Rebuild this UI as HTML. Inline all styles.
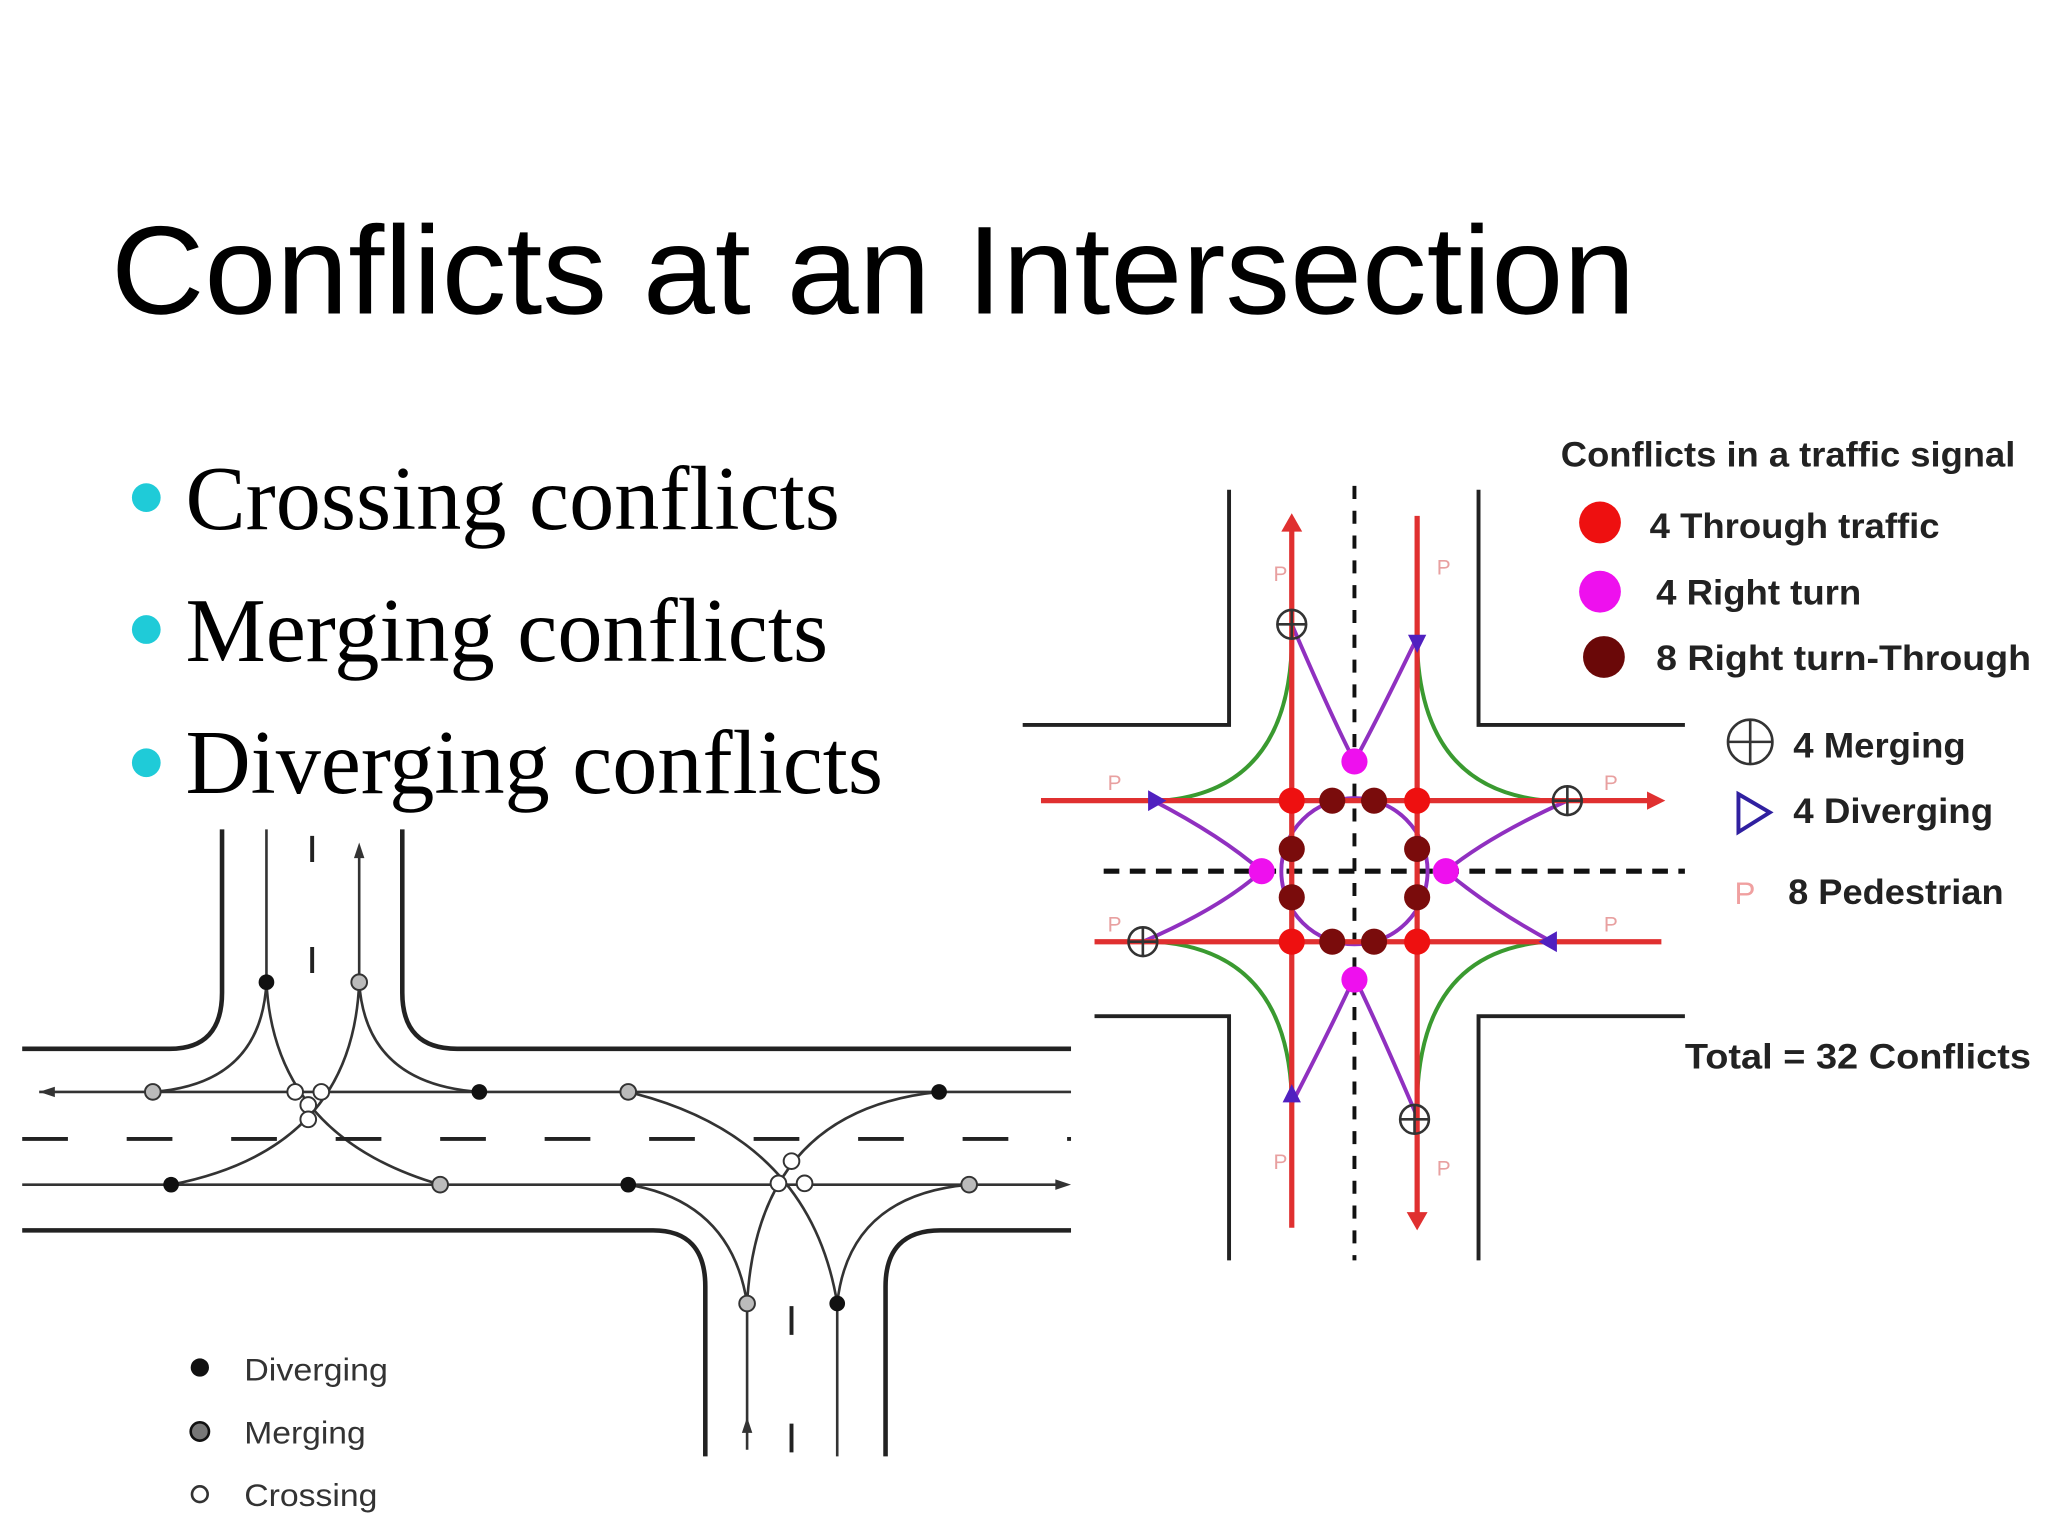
<!DOCTYPE html>
<html><head><meta charset="utf-8"><style>
html,body{margin:0;padding:0;background:#fff;}
svg{display:block;}
</style></head><body>
<svg width="2048" height="1536" viewBox="0 0 1568 1176" xmlns="http://www.w3.org/2000/svg">
<rect width="1568" height="1176" fill="#fff"/>
<text x="85" y="240" font-family="Liberation Sans, sans-serif" font-size="96" textLength="1167" lengthAdjust="spacingAndGlyphs" fill="#000">Conflicts at an Intersection</text>
<g fill="#1fcbd8"><circle cx="112" cy="381" r="11"/><circle cx="112" cy="482" r="11"/><circle cx="112" cy="584" r="11"/></g>
<g font-family="Liberation Serif, serif" font-size="70" fill="#000">
<text x="142" y="405" textLength="501" lengthAdjust="spacingAndGlyphs">Crossing conflicts</text>
<text x="142" y="506" textLength="492" lengthAdjust="spacingAndGlyphs">Merging conflicts</text>
<text x="142" y="607" textLength="534" lengthAdjust="spacingAndGlyphs">Diverging conflicts</text>
</g>

<!-- Right diagram -->
<g stroke="#222" stroke-width="3" fill="none">
<path d="M941,375 V555 H783"/><path d="M1132,375 V555 H1290"/>
<path d="M838,778 H941 V965"/><path d="M1290,778 H1132 V965"/>
</g>
<line x1="1037" y1="372" x2="1037" y2="965" stroke="#111" stroke-width="3" stroke-dasharray="10,9"/>
<line x1="845" y1="667" x2="1290" y2="667" stroke="#111" stroke-width="4" stroke-dasharray="12,8"/>
<g stroke="#3a9a30" stroke-width="3" fill="none">
<path d="M989,495 Q985,605 890,613"/><path d="M1085,495 Q1089,605 1185,613"/>
<path d="M989,840 Q985,728 885,721"/><path d="M1085,840 Q1089,728 1185,721"/>
</g>
<g stroke="#9030c0" stroke-width="3" fill="none">
<circle cx="1037" cy="667" r="56"/>
<path d="M989,478 Q1020,550 1037,583 Q1055,550 1085,488"/>
<path d="M989,845 Q1020,785 1037,748 Q1055,785 1085,855"/>
<path d="M883,613 Q935,640 966,667 Q935,695 875,721"/>
<path d="M1200,613 Q1140,640 1107,667 Q1140,695 1188,721"/>
</g>
<g stroke="#e03030" stroke-width="4" fill="none">
<line x1="989" y1="400" x2="989" y2="940"/><line x1="1085" y1="395" x2="1085" y2="935"/>
<line x1="797" y1="613" x2="1268" y2="613"/><line x1="838" y1="721" x2="1272" y2="721"/>
</g>
<g fill="#e03030"><path d="M989,393 l-8,14 h16z"/><path d="M1085,942 l-8,-14 h16z"/><path d="M1275,613 l-14,-7 v14z"/></g>
<g fill="#ee1010"><circle cx="989" cy="613" r="10"/><circle cx="1085" cy="613" r="10"/><circle cx="989" cy="721" r="10"/><circle cx="1085" cy="721" r="10"/></g>
<g fill="#7a0c0c"><circle cx="1020" cy="613" r="10"/><circle cx="1052" cy="613" r="10"/><circle cx="1020" cy="721" r="10"/><circle cx="1052" cy="721" r="10"/><circle cx="989" cy="650" r="10"/><circle cx="989" cy="687" r="10"/><circle cx="1085" cy="650" r="10"/><circle cx="1085" cy="687" r="10"/></g>
<g fill="#ee10ee"><circle cx="1037" cy="583" r="10"/><circle cx="1037" cy="750" r="10"/><circle cx="966" cy="667" r="10"/><circle cx="1107" cy="667" r="10"/></g>
<g stroke="#333" stroke-width="2" fill="none">
<circle cx="989" cy="478" r="11"/><path d="M978,478h22M989,467v22"/>
<circle cx="1200" cy="613" r="11"/><path d="M1189,613h22M1200,602v22"/>
<circle cx="875" cy="721" r="11"/><path d="M864,721h22M875,710v22"/>
<circle cx="1083" cy="857" r="11"/><path d="M1072,857h22M1083,846v22"/>
</g>
<g fill="#5020c0"><path d="M1085,500 l-7,-14 h14z"/><path d="M989,830 l-7,14 h14z"/><path d="M893,613 l-14,-8 v16z"/><path d="M1178,721 l14,-8 v16z"/></g>
<g font-family="Liberation Sans, sans-serif" font-size="16" fill="#e8a0a0">
<text x="975" y="445">P</text><text x="1100" y="440">P</text><text x="848" y="605">P</text><text x="1228" y="605">P</text>
<text x="848" y="713">P</text><text x="1228" y="713">P</text><text x="975" y="895">P</text><text x="1100" y="900">P</text>
</g>
<g font-family="Liberation Sans, sans-serif" font-weight="bold" fill="#222" font-size="27">
<text x="1195" y="357" textLength="348" lengthAdjust="spacingAndGlyphs">Conflicts in a traffic signal</text>
<text x="1263" y="412" textLength="222" lengthAdjust="spacingAndGlyphs">4 Through traffic</text>
<text x="1268" y="463" textLength="157" lengthAdjust="spacingAndGlyphs">4 Right turn</text>
<text x="1268" y="513" textLength="287" lengthAdjust="spacingAndGlyphs">8 Right turn-Through</text>
<text x="1373" y="580" textLength="132" lengthAdjust="spacingAndGlyphs">4 Merging</text>
<text x="1373" y="630" textLength="153" lengthAdjust="spacingAndGlyphs">4 Diverging</text>
<text x="1369" y="692" textLength="165" lengthAdjust="spacingAndGlyphs">8 Pedestrian</text>
<text x="1290" y="818" textLength="265" lengthAdjust="spacingAndGlyphs">Total  = 32 Conflicts</text>
</g>
<circle cx="1225" cy="400" r="16" fill="#ee1010"/>
<circle cx="1225" cy="453" r="16" fill="#ee10ee"/>
<circle cx="1228" cy="503" r="16" fill="#6a0808"/>
<g stroke="#333" stroke-width="2" fill="none"><circle cx="1340" cy="568" r="17"/><path d="M1323,568h34M1340,551v34"/></g>
<path d="M1331,608 L1355,622 L1331,637z" fill="none" stroke="#3020a0" stroke-width="3"/>
<text x="1328" y="692" font-family="Liberation Sans, sans-serif" font-size="24" fill="#f0a0a0">P</text>

<!-- Left diagram -->
<g stroke="#222" stroke-width="3.5" fill="none">
<path d="M17,803 H130 Q170,803 170,760 V635"/>
<path d="M308,635 V760 Q308,803 350,803 H820"/>
<path d="M17,942 H500 Q540,942 540,985 V1115"/>
<path d="M678,1115 V985 Q678,942 720,942 H820"/>
</g>
<g stroke="#333" stroke-width="2" fill="none">
<line x1="30" y1="836" x2="820" y2="836"/><line x1="17" y1="907" x2="812" y2="907"/>
<line x1="204" y1="635" x2="204" y2="752"/><line x1="275" y1="650" x2="275" y2="752"/>
<line x1="572" y1="998" x2="572" y2="1110"/><line x1="641" y1="998" x2="641" y2="1115"/>
<path d="M204,752 Q200,830 117,836"/>
<path d="M204,752 Q210,870 337,907"/>
<path d="M275,752 Q280,830 367,836"/>
<path d="M275,752 Q270,880 131,907"/>
<path d="M481,836 Q620,870 641,998"/>
<path d="M719,836 Q580,850 572,998"/>
<path d="M481,907 Q560,920 572,998"/>
<path d="M742,907 Q650,915 641,998"/>
</g>
<g fill="#333"><path d="M30,836 l12,-4 v8z"/><path d="M820,907 l-12,-4 v8z"/><path d="M275,645 l-4,12 h8z"/><path d="M572,1085 l-4,12 h8z"/></g>
<g stroke="#222" stroke-width="3">
<line x1="17" y1="872" x2="820" y2="872" stroke-dasharray="35,45"/>
<line x1="239" y1="640" x2="239" y2="760" stroke-dasharray="20,65"/>
<line x1="606" y1="1000" x2="606" y2="1115" stroke-dasharray="22,68"/>
</g>
<g fill="#111"><circle cx="204" cy="752" r="6"/><circle cx="367" cy="836" r="6"/><circle cx="131" cy="907" r="6"/><circle cx="719" cy="836" r="6"/><circle cx="481" cy="907" r="6"/><circle cx="641" cy="998" r="6"/></g>
<g stroke="#333" stroke-width="1.5" fill="#bbb"><circle cx="275" cy="752" r="6"/><circle cx="117" cy="836" r="6"/><circle cx="337" cy="907" r="6"/><circle cx="481" cy="836" r="6"/><circle cx="742" cy="907" r="6"/><circle cx="572" cy="998" r="6"/></g>
<g stroke="#333" stroke-width="1.5" fill="#fff">
<circle cx="226" cy="836" r="6"/><circle cx="246" cy="836" r="6"/><circle cx="236" cy="846" r="6"/><circle cx="236" cy="857" r="6"/>
<circle cx="606" cy="889" r="6"/><circle cx="596" cy="906" r="6"/><circle cx="616" cy="906" r="6"/>
</g>
<circle cx="153" cy="1047" r="7" fill="#111"/>
<circle cx="153" cy="1096" r="7" fill="#777" stroke="#111" stroke-width="2"/>
<circle cx="153" cy="1144" r="6" fill="#fff" stroke="#333" stroke-width="2"/>
<g font-family="Liberation Sans, sans-serif" font-size="24" fill="#333">
<text x="187" y="1057" textLength="110" lengthAdjust="spacingAndGlyphs">Diverging</text>
<text x="187" y="1105" textLength="93" lengthAdjust="spacingAndGlyphs">Merging</text>
<text x="187" y="1153" textLength="102" lengthAdjust="spacingAndGlyphs">Crossing</text>
</g>
</svg>
</body></html>
